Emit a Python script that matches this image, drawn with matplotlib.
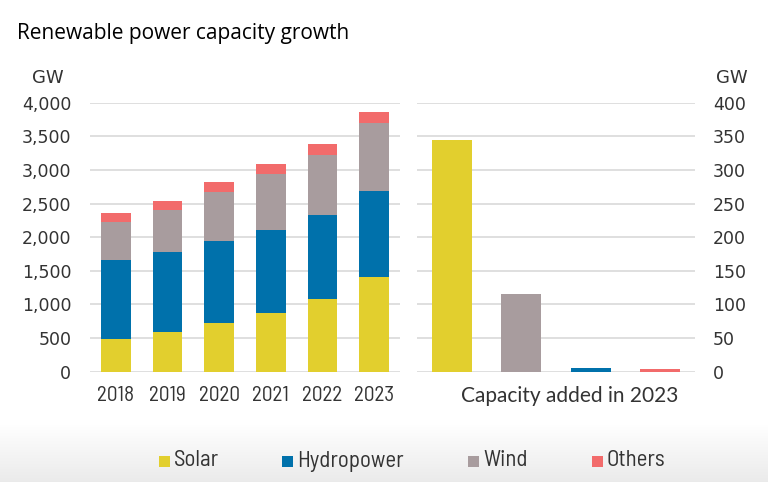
import numpy as np
import matplotlib.pyplot as plt
from matplotlib.patches import Rectangle

years = ['2018', '2019', '2020', '2021', '2022', '2023']
solar = [486, 590, 724, 867, 1076, 1413]
hydro = [1174, 1194, 1214, 1240, 1259, 1274]
wind = [561, 620, 729, 827, 892, 1011]
others = [133, 139, 148, 149, 158, 163]

added_labels = ['Solar', 'Wind', 'Hydropower', 'Others']
added_values = [345, 116, 6, 3.5]

left_ticks = list(range(0, 4001, 500))
right_ticks = list(range(0, 401, 50))

colors = {'Solar': '#E2CF2E', 'Hydropower': '#0071AB', 'Wind': '#A89C9E', 'Others': '#F26B6B'}
text_color = '#333333'
grid_color = '#D9D9D9'
narrow = ['Barlow Semi Condensed', 'DejaVu Sans']

plt.rcParams['font.family'] = ['Lato', 'DejaVu Sans']

fig = plt.figure(figsize=(7.68, 4.91), dpi=100)
W, H = 768, 491


def axes_px(x0, y0, x1, y1):
    # pixel box (top-left origin) -> figure fraction axes
    return fig.add_axes([x0 / W, 1 - y1 / H, (x1 - x0) / W, (y1 - y0) / H])


def style_axis(ax):
    for s in ax.spines.values():
        s.set_visible(False)
    ax.tick_params(length=0, colors=text_color)
    ax.yaxis.grid(True, color=grid_color, linewidth=1.2)
    ax.set_axisbelow(True)


# left: stacked capacity
ax1 = axes_px(90, 102.7, 400, 371.7)
x = np.arange(len(years))
bottom = np.zeros(len(years))
for name, vals in [('Solar', solar), ('Hydropower', hydro), ('Wind', wind), ('Others', others)]:
    ax1.bar(x, vals, bottom=bottom, width=0.57, color=colors[name], linewidth=0)
    bottom += np.array(vals)
ax1.set_ylim(0, 4000)
ax1.set_xlim(-0.5, len(years) - 0.5)
style_axis(ax1)
ax1.set_yticks(left_ticks, ['{:,}'.format(v) for v in left_ticks],
               fontfamily='DejaVu Sans', fontsize=12.5)
ax1.set_xticks(x, years, fontfamily=narrow, fontsize=15.3)
ax1.tick_params(axis='y', pad=13.5)
ax1.tick_params(axis='x', pad=10.5)

# right: added in 2023
ax2 = axes_px(417, 102.7, 695, 371.7)
x2 = np.arange(len(added_labels))
ax2.bar(x2, added_values, width=0.58, color=[colors[n] for n in added_labels], linewidth=0)
ax2.set_ylim(0, 400)
ax2.set_xlim(-0.5, len(added_labels) - 0.5)
ax2.yaxis.tick_right()
style_axis(ax2)
ax2.set_yticks(right_ticks, [str(v) for v in right_ticks], fontfamily='DejaVu Sans', fontsize=12.5)
ax2.set_xticks([])
ax2.tick_params(axis='y', pad=13)
fig.text(570 / W, 1 - 396 / H, 'Capacity added in 2023', ha='center', va='center',
         fontsize=15, color=text_color)

fig.text(48 / W, 1 - 78 / H, 'GW', ha='center', va='center', fontsize=13, color=text_color,
         family=['DejaVu Sans'])
fig.text(732 / W, 1 - 78 / H, 'GW', ha='center', va='center', fontsize=13, color=text_color,
         family=['DejaVu Sans'])

fig.text(17 / W, 1 - 34 / H, 'Renewable power capacity growth', ha='left', va='center',
         fontsize=15, color='black', family=['Open Sans', 'DejaVu Sans'])

# legend band with soft gradient
band = fig.add_axes([0, 1 - 482 / H, 1, (482 - 425) / H], zorder=-1)
grad = np.linspace(1.0, 0.92, 100).reshape(-1, 1)
band.imshow(np.dstack([grad, grad, grad]), aspect='auto', extent=[0, 1, 0, 1], origin='upper')
band.set_axis_off()

legend_pos = [('Solar', 159), ('Hydropower', 282), ('Wind', 468), ('Others', 592)]
for name, px in legend_pos:
    fig.patches.append(Rectangle((px / W, 1 - 467 / H), 11 / W, 11 / H, transform=fig.transFigure,
                                 facecolor=colors[name], edgecolor='none'))
    fig.text((px + 15) / W, 1 - 461 / H, name, ha='left', va='center', fontsize=16.4,
             color=text_color, family=narrow)

fig.savefig('out.png', dpi=100)
